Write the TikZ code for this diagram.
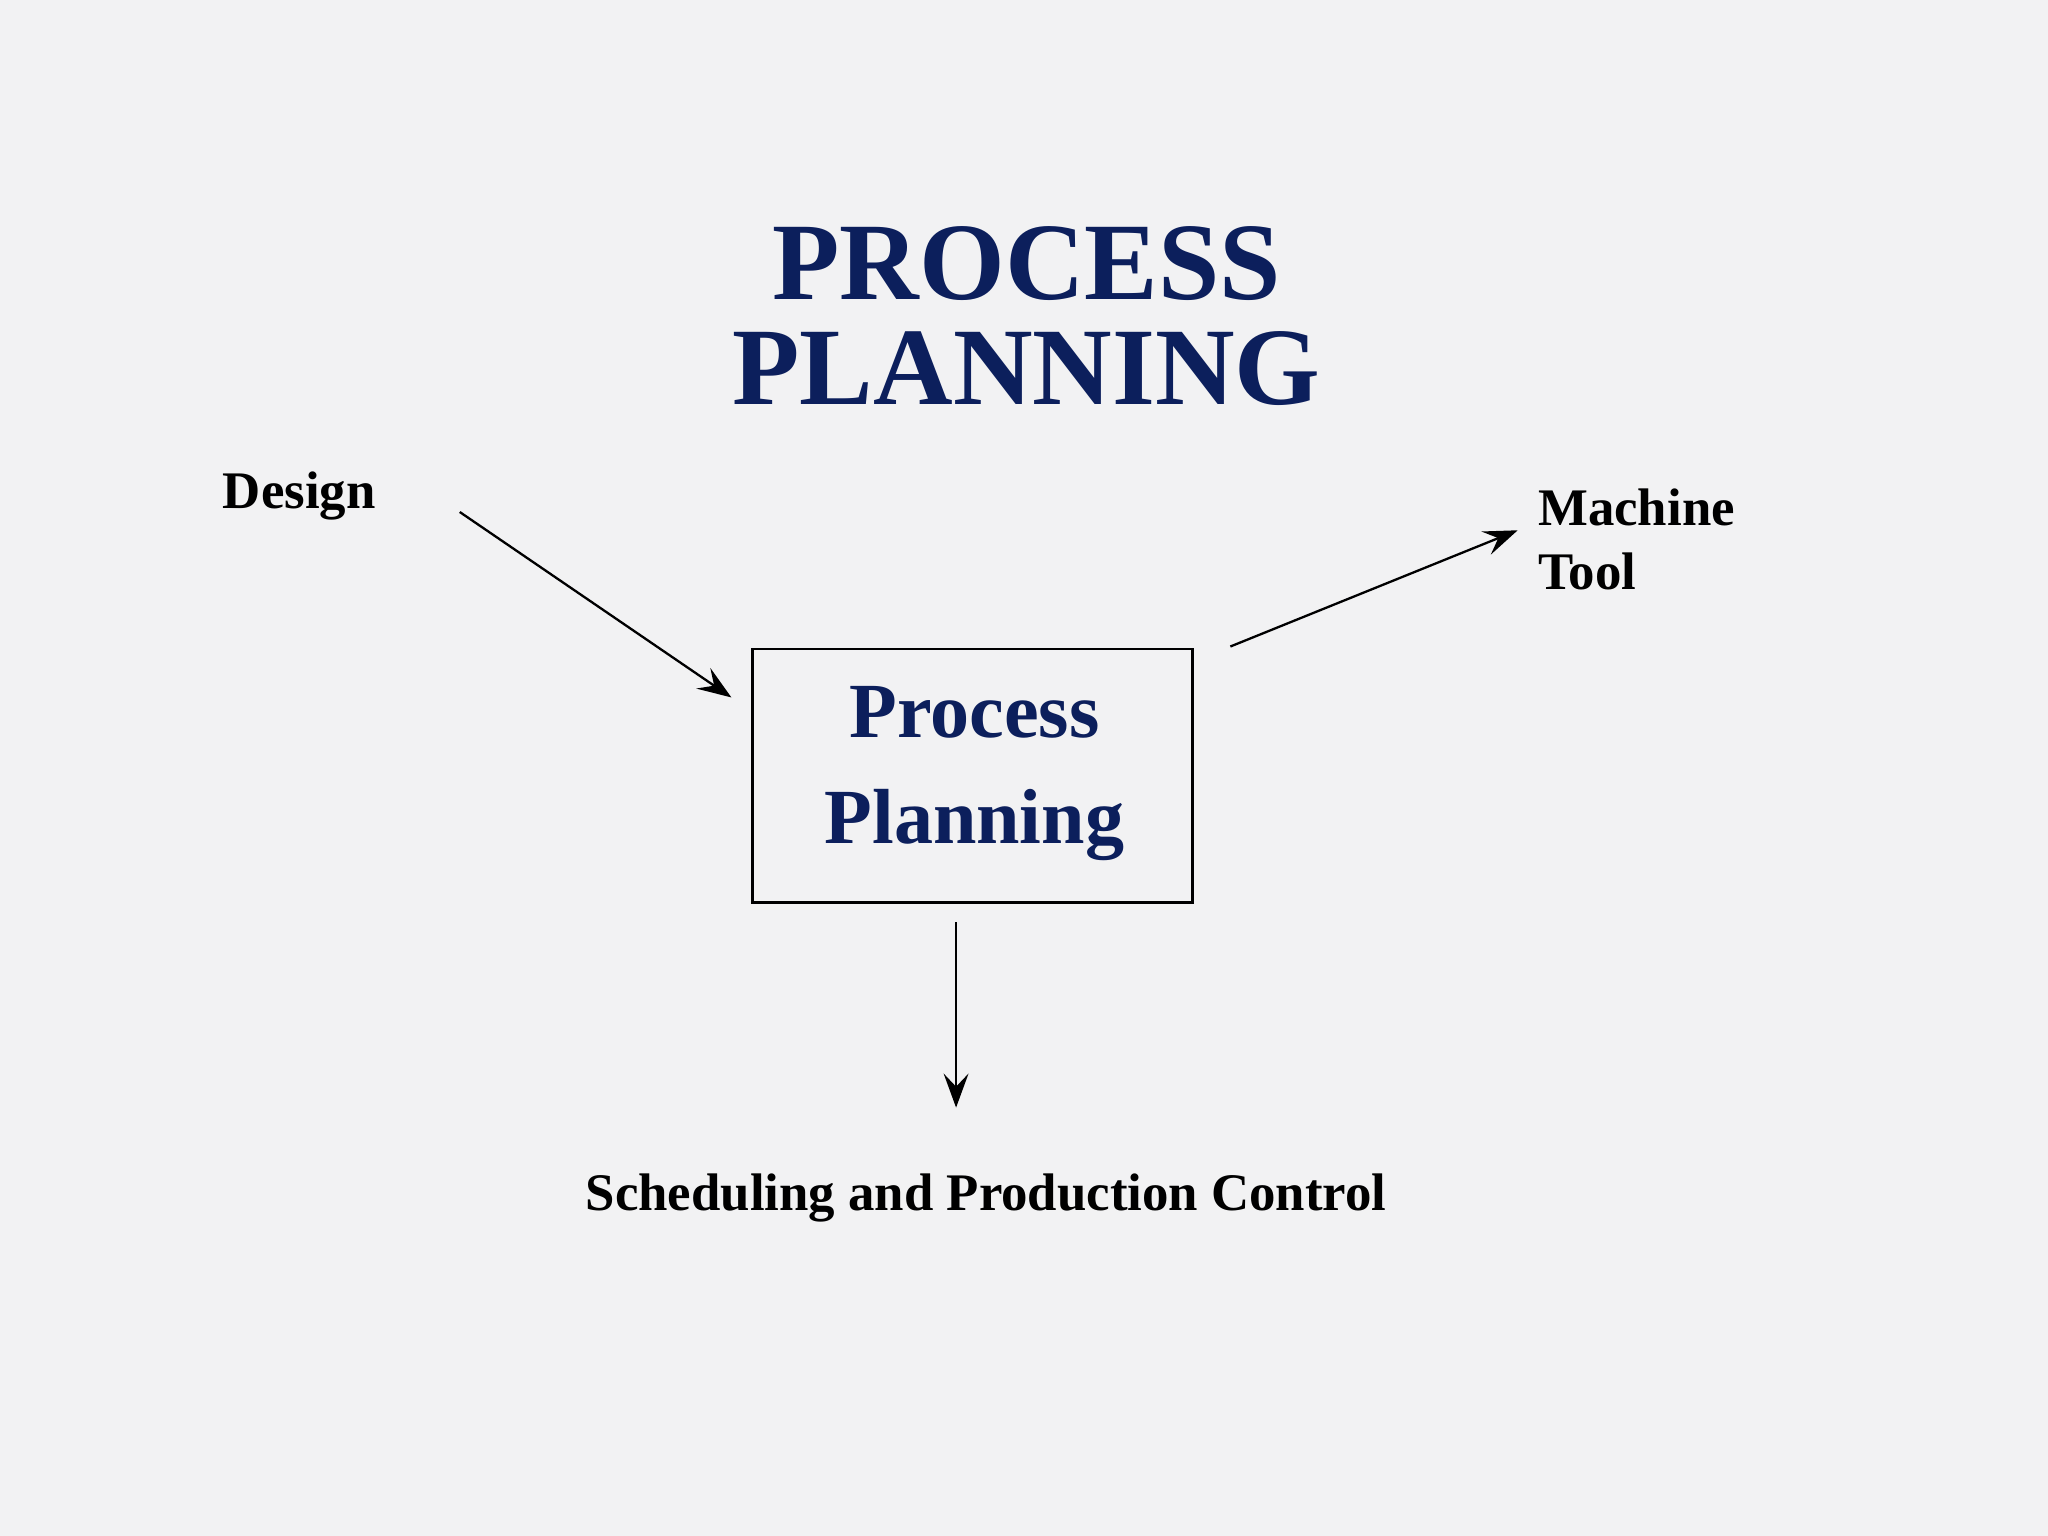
\documentclass[tikz,border=0pt]{standalone}
\usepackage{fontspec}
\setmainfont{Liberation Serif}
\usetikzlibrary{arrows.meta}
\definecolor{bg}{HTML}{F2F2F3}
\definecolor{navy}{HTML}{0C1F5C}
\tikzset{
  lbl/.style={font=\fontsize{11.5pt}{13pt}\selectfont\bfseries, text=black, inner sep=0pt},
  ttl/.style={font=\fontsize{24pt}{26pt}\selectfont\bfseries, text=navy, inner sep=0pt},
  boxt/.style={font=\fontsize{17pt}{19pt}\selectfont\bfseries, text=navy, inner sep=0pt},
  arr/.style={-{Stealth[length=2.6mm,width=1.9mm,inset=1mm]}, line width=0.5pt}
}
\begin{document}
\begin{tikzpicture}[x=0.01cm,y=-0.01cm]
\fill[bg] (0,0) rectangle (1568,1176);
\useasboundingbox (0,0) rectangle (1568,1176);
\node[ttl] (t1) at (786,202) {PROCESS};
\node[ttl] (t2) at (786,282) {PLANNING};
\node[draw, line width=0.6pt, minimum width=3.37cm, minimum height=1.94cm] (box) at (744.5,594) {};
\node[boxt] (p1) at (746,545) {Process};
\node[boxt] (p2) at (746,632) {Planning};
\node[lbl, anchor=west] (design) at (170,380) {Design};
\node[lbl, anchor=west, align=left] (mt) at (1177,413) {Machine\\[1pt]Tool};
\node[lbl] (sched) at (755,917) {Scheduling and Production Control};
\coordinate (a1) at (352,392); \coordinate (a1e) at (560,534);
\coordinate (a2) at (942,495); \coordinate (a2e) at (1162,406);
\coordinate (a3) at (732,706); \coordinate (a3e) at (732,848);
\draw[arr] (a1) -- (a1e);
\draw[arr] (a2) -- (a2e);
\draw[arr] (a3) -- (a3e);
\end{tikzpicture}
\end{document}
